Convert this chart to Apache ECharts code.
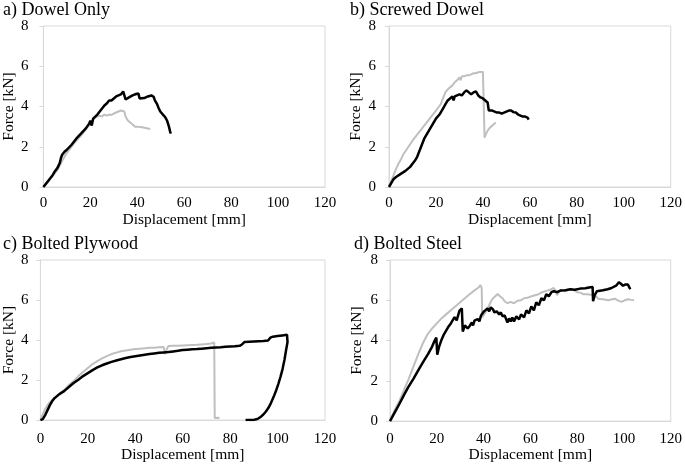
<!DOCTYPE html>
<html>
<head>
<meta charset="utf-8">
<script src="https://cdn.jsdelivr.net/npm/echarts@6/dist/echarts.min.js"></script>
<style>
  html, body { margin: 0; padding: 0; background: #fff; }
  #main { width: 685px; height: 464px; }
</style>
</head>
<body>
<div id="main"></div>
<script>
// panel titles
var panelTitles = ['a) Dowel Only', 'b) Screwed Dowel', 'c) Bolted Plywood', 'd) Bolted Steel'];

// [displacement mm, force kN]
var aGray = [[0,0],[2,0.25],[4,0.55],[6,0.85],[8,1.3],[10,1.7],[12,2.0],[14,2.3],[16,2.55],[18,2.85],[20,3.15],[21,3.3],[22,3.45],[23,3.5],[24,3.55],[25,3.5],[26,3.6],[27,3.55],[28,3.6],[29,3.58],[30,3.65],[31,3.7],[32,3.75],[33,3.8],[33.8,3.88],[34.5,3.75],[35,3.5],[35.5,3.4],[36,3.3],[37,3.2],[38,3.1],[39,3.0],[40,3.0],[42,2.97],[44,2.92],[45.5,2.88]];
var aBlack = [[0,0],[1,0.15],[2,0.3],[3,0.45],[4,0.6],[5,0.8],[6,0.95],[7,1.2],[7.5,1.45],[8,1.6],[9,1.75],[10,1.85],[12,2.1],[14,2.4],[16,2.65],[18,2.9],[19.5,3.15],[20,3.3],[20.6,3.05],[21.2,3.4],[23,3.6],[25,3.9],[26,4.05],[27,4.15],[28,4.3],[29,4.3],[30,4.4],[31,4.5],[32,4.55],[33,4.6],[34,4.75],[34.6,4.78],[35,4.35],[36.5,4.45],[38,4.55],[39.5,4.62],[40.5,4.65],[41,4.4],[41.5,4.32],[43,4.42],[44.5,4.5],[46,4.55],[47,4.48],[47.5,4.3],[48.5,4.1],[49,3.95],[49.8,3.75],[50.5,3.8],[51.3,3.55],[52,3.45],[52.7,3.3],[53.2,3.25],[53.5,3.0],[54,2.75],[54.3,2.65]];

var bGray = [[0,0],[1,0.3],[2,0.6],[3,0.9],[4,1.15],[5,1.35],[6,1.6],[8,1.95],[10,2.3],[12,2.6],[14,2.9],[16,3.2],[18,3.5],[20,3.8],[21,3.95],[22,4.1],[23,4.4],[24,4.7],[25,4.85],[26,4.95],[27,5.05],[28,5.2],[29,5.3],[30,5.45],[30.5,5.3],[31,5.5],[32,5.5],[33,5.55],[34,5.55],[35,5.6],[36,5.65],[37,5.65],[38,5.7],[39,5.72],[40,5.72],[40.6,5.68],[40.7,2.45],[41,2.55],[42,2.8],[43,2.95],[44,3.05],[45,3.15],[45.5,3.2]];
var bBlack = [[0,0],[1,0.2],[2,0.4],[3,0.5],[5,0.65],[7,0.8],[9,1.0],[11,1.3],[12,1.5],[13,1.8],[14,2.1],[15,2.4],[16.5,2.7],[18,3.0],[20,3.4],[21.5,3.6],[23,3.9],[24,4.1],[25,4.3],[26,4.4],[27,4.5],[27.5,4.3],[28,4.5],[29,4.55],[30,4.6],[31,4.55],[32,4.7],[33,4.8],[34,4.7],[35,4.6],[36,4.7],[37,4.75],[38,4.55],[39,4.45],[40,4.4],[41,4.3],[42,4.2],[42.5,3.8],[43,3.75],[44,3.8],[45,3.75],[46,3.7],[47,3.7],[48,3.65],[49,3.7],[50,3.75],[51,3.8],[52,3.8],[53,3.72],[54,3.7],[55,3.6],[56,3.55],[57,3.5],[58,3.5],[59,3.45],[59.5,3.35]];

var cGray = [[0,0],[0.5,0.15],[1,0.3],[2,0.55],[3,0.75],[4,0.9],[5,1.0],[6,1.1],[8,1.3],[10,1.5],[12,1.75],[14,1.95],[16,2.2],[18,2.4],[20,2.6],[22,2.8],[24,2.95],[26,3.08],[28,3.2],[30,3.3],[32,3.37],[34,3.44],[36,3.48],[38,3.52],[40,3.55],[42,3.57],[44,3.59],[46,3.61],[48,3.62],[50,3.64],[52,3.65],[52.5,3.3],[53,3.25],[53.5,3.6],[54,3.7],[56,3.72],[58,3.72],[60,3.73],[62,3.74],[64,3.75],[66,3.76],[68,3.78],[70,3.8],[72,3.83],[73.3,3.88],[73.5,0.1],[74,0.15],[75,0.12],[75.5,0.1]];
var cBlack = [[0,0],[1,0.05],[2,0.25],[3,0.5],[4,0.75],[5,0.95],[6,1.1],[8,1.3],[10,1.45],[12,1.65],[14,1.85],[16,2.02],[18,2.2],[20,2.35],[22,2.5],[24,2.63],[26,2.74],[28,2.83],[30,2.91],[32,2.98],[34,3.04],[36,3.1],[38,3.15],[40,3.19],[42,3.23],[44,3.27],[46,3.3],[48,3.33],[50,3.36],[52,3.38],[54,3.4],[56,3.43],[58,3.46],[60,3.5],[62,3.52],[64,3.54],[66,3.55],[68,3.57],[70,3.59],[72,3.61],[74,3.63],[76,3.64],[78,3.66],[80,3.68],[82,3.69],[84,3.71],[85,3.78],[86,3.9],[88,3.92],[90,3.93],[92,3.94],[94,3.95],[96,3.98],[97,4.12],[98,4.17],[100,4.2],[102,4.23],[104,4.26],[104.5,4.27],[104.2,3.9],[103.6,3.5],[102.9,3.0],[102.1,2.55],[101.2,2.15],[100.3,1.8],[99.3,1.45],[98.3,1.15],[97.2,0.85],[96.1,0.6],[95,0.42],[94,0.28],[93,0.17],[92,0.09],[91,0.04],[90,0.01],[88.5,0],[86.5,0]];

var dGray = [[0,0],[1,0.3],[2,0.55],[4,1.0],[6,1.55],[8,2.1],[10,2.7],[12,3.3],[14,3.85],[16,4.3],[18,4.6],[20,4.85],[22,5.1],[24,5.3],[26,5.5],[28,5.7],[30,5.9],[32,6.1],[34,6.3],[36,6.48],[38,6.65],[38.6,6.76],[39.2,6.6],[39.4,5.16],[40.5,5.35],[41.7,5.57],[43,5.9],[43.8,6.07],[45,6.2],[46,6.31],[47,6.2],[48.1,6.1],[49,5.95],[50.2,5.85],[51.5,5.92],[53,5.85],[54.5,5.98],[55.9,6.0],[57.3,6.1],[58.7,6.12],[60.5,6.2],[62,6.25],[63.5,6.3],[65,6.4],[67.2,6.48],[69,6.55],[70,6.61],[71,6.45],[71.4,6.25],[72.3,6.45],[73.5,6.5],[75,6.45],[76.5,6.55],[78.5,6.5],[80,6.4],[81.3,6.38],[82.5,6.3],[84.2,6.3],[86,6.27],[88,6.2],[89,6.08],[91,6.05],[93.3,6.0],[95,6.05],[96.1,6.08],[97.5,5.98],[98.9,5.92],[100.3,6.0],[101.7,6.05],[103,6.02],[104.3,6.0]];
var dBlack = [[0,0],[2.1,0.45],[4,0.85],[6,1.3],[7.8,1.69],[10,2.1],[12,2.51],[14,2.9],[16.3,3.34],[18,3.7],[19.1,4.0],[19.8,4.15],[20.2,3.3],[21,3.7],[21.9,4.0],[23,4.3],[24.8,4.66],[26,4.85],[27.6,5.16],[28.5,5.0],[29.7,5.49],[30.7,5.6],[31.1,4.45],[32,4.75],[32.5,4.83],[33.2,4.6],[33.9,4.7],[35,4.9],[35.5,4.75],[36.1,4.99],[37.5,5.07],[38.2,4.95],[38.9,5.24],[40.2,5.45],[41.7,5.6],[42.4,5.45],[43.1,5.65],[44,5.55],[44.6,5.4],[45.6,5.45],[46.7,5.3],[47.4,5.4],[48.1,5.2],[49,5.25],[50.2,4.9],[50.9,5.1],[51.6,4.95],[52.3,5.15],[53,4.95],[54,5.2],[55.2,5.05],[56,5.3],[57.3,5.15],[58.3,5.5],[59.4,5.35],[60.4,5.7],[61.5,5.5],[62.5,5.9],[63.6,5.75],[64.7,6.1],[65.8,6.0],[66.8,6.3],[67.9,6.2],[69,6.4],[70,6.45],[71.5,6.4],[72.8,6.48],[75,6.5],[77.1,6.55],[79,6.52],[81.3,6.58],[83.5,6.6],[85.6,6.65],[86.6,6.66],[86.8,5.95],[87.5,6.25],[88.4,6.45],[89,6.5],[91,6.5],[93,6.55],[94.7,6.61],[96.8,6.74],[97.8,6.9],[98.7,6.82],[99.6,6.72],[100.5,6.78],[101.7,6.78],[102.4,6.72],[102.7,6.55]];

var grayData = [aGray, bGray, cGray, dGray];
var blackData = [aBlack, bBlack, cBlack, dBlack];

var serif = 'Liberation Serif';
var frameColor = '#d9d9d9';

// plot boxes (left, top, width, height) and label tweaks per panel
var boxes = [
  {left: 39, top: 26, width: 286, height: 161, ttlLeft: 3, ttlTop: 1, yGap: 22, yMargin: 15, xMargin: 9},
  {left: 389, top: 26, width: 286, height: 161, ttlLeft: 350, ttlTop: 1, yGap: 25, yMargin: 13, xMargin: 9},
  {left: 36, top: 260, width: 289, height: 163, ttlLeft: 3, ttlTop: 235, yGap: 19, yMargin: 12, xMargin: 11},
  {left: 390, top: 260, width: 283, height: 162, ttlLeft: 354, ttlTop: 235, yGap: 25, yMargin: 12, xMargin: 10}
];

var grids = [], xAxes = [], yAxes = [], titles = [], series = [];
boxes.forEach(function (b, i) {
  titles.push({
    text: panelTitles[i], left: b.ttlLeft, top: b.ttlTop, padding: 0,
    textStyle: {fontFamily: serif, fontSize: 18, fontWeight: 'normal', color: '#000'}
  });
  grids.push({
    left: b.left, top: b.top, width: b.width, height: b.height,
    show: true, borderColor: frameColor, borderWidth: 1, backgroundColor: 'transparent'
  });
  xAxes.push({
    gridIndex: i, type: 'value', min: 0, max: 120, interval: 20,
    name: 'Displacement [mm]', nameLocation: 'middle', nameGap: 23,
    nameTextStyle: {fontFamily: serif, fontSize: 15.5, color: '#000'},
    axisLine: {lineStyle: {color: frameColor, width: 1}},
    axisTick: {show: false},
    axisLabel: {fontFamily: serif, fontSize: 15, color: '#000', margin: b.xMargin},
    splitLine: {show: false}
  });
  yAxes.push({
    gridIndex: i, type: 'value', min: 0, max: 8, interval: 2,
    name: 'Force [kN]', nameLocation: 'middle', nameGap: b.yGap, nameRotate: 90,
    nameTextStyle: {fontFamily: serif, fontSize: 15.5, color: '#000'},
    axisLine: {show: true, lineStyle: {color: frameColor, width: 1}},
    axisTick: {show: true, length: 4, lineStyle: {color: frameColor}},
    axisLabel: {fontFamily: serif, fontSize: 15, color: '#000', margin: b.yMargin},
    splitLine: {show: false}
  });
  series.push({
    type: 'line', xAxisIndex: i, yAxisIndex: i, data: grayData[i],
    showSymbol: false, symbol: 'none', lineStyle: {color: '#bfbfbf', width: 2}
  });
  series.push({
    type: 'line', xAxisIndex: i, yAxisIndex: i, data: blackData[i],
    showSymbol: false, symbol: 'none', lineStyle: {color: '#000', width: 2.5}
  });
});

var myChart = echarts.init(document.getElementById('main'));
myChart.setOption({
  backgroundColor: '#fff',
  animation: false,
  title: titles,
  grid: grids,
  xAxis: xAxes,
  yAxis: yAxes,
  series: series
});
</script>
</body>
</html>
